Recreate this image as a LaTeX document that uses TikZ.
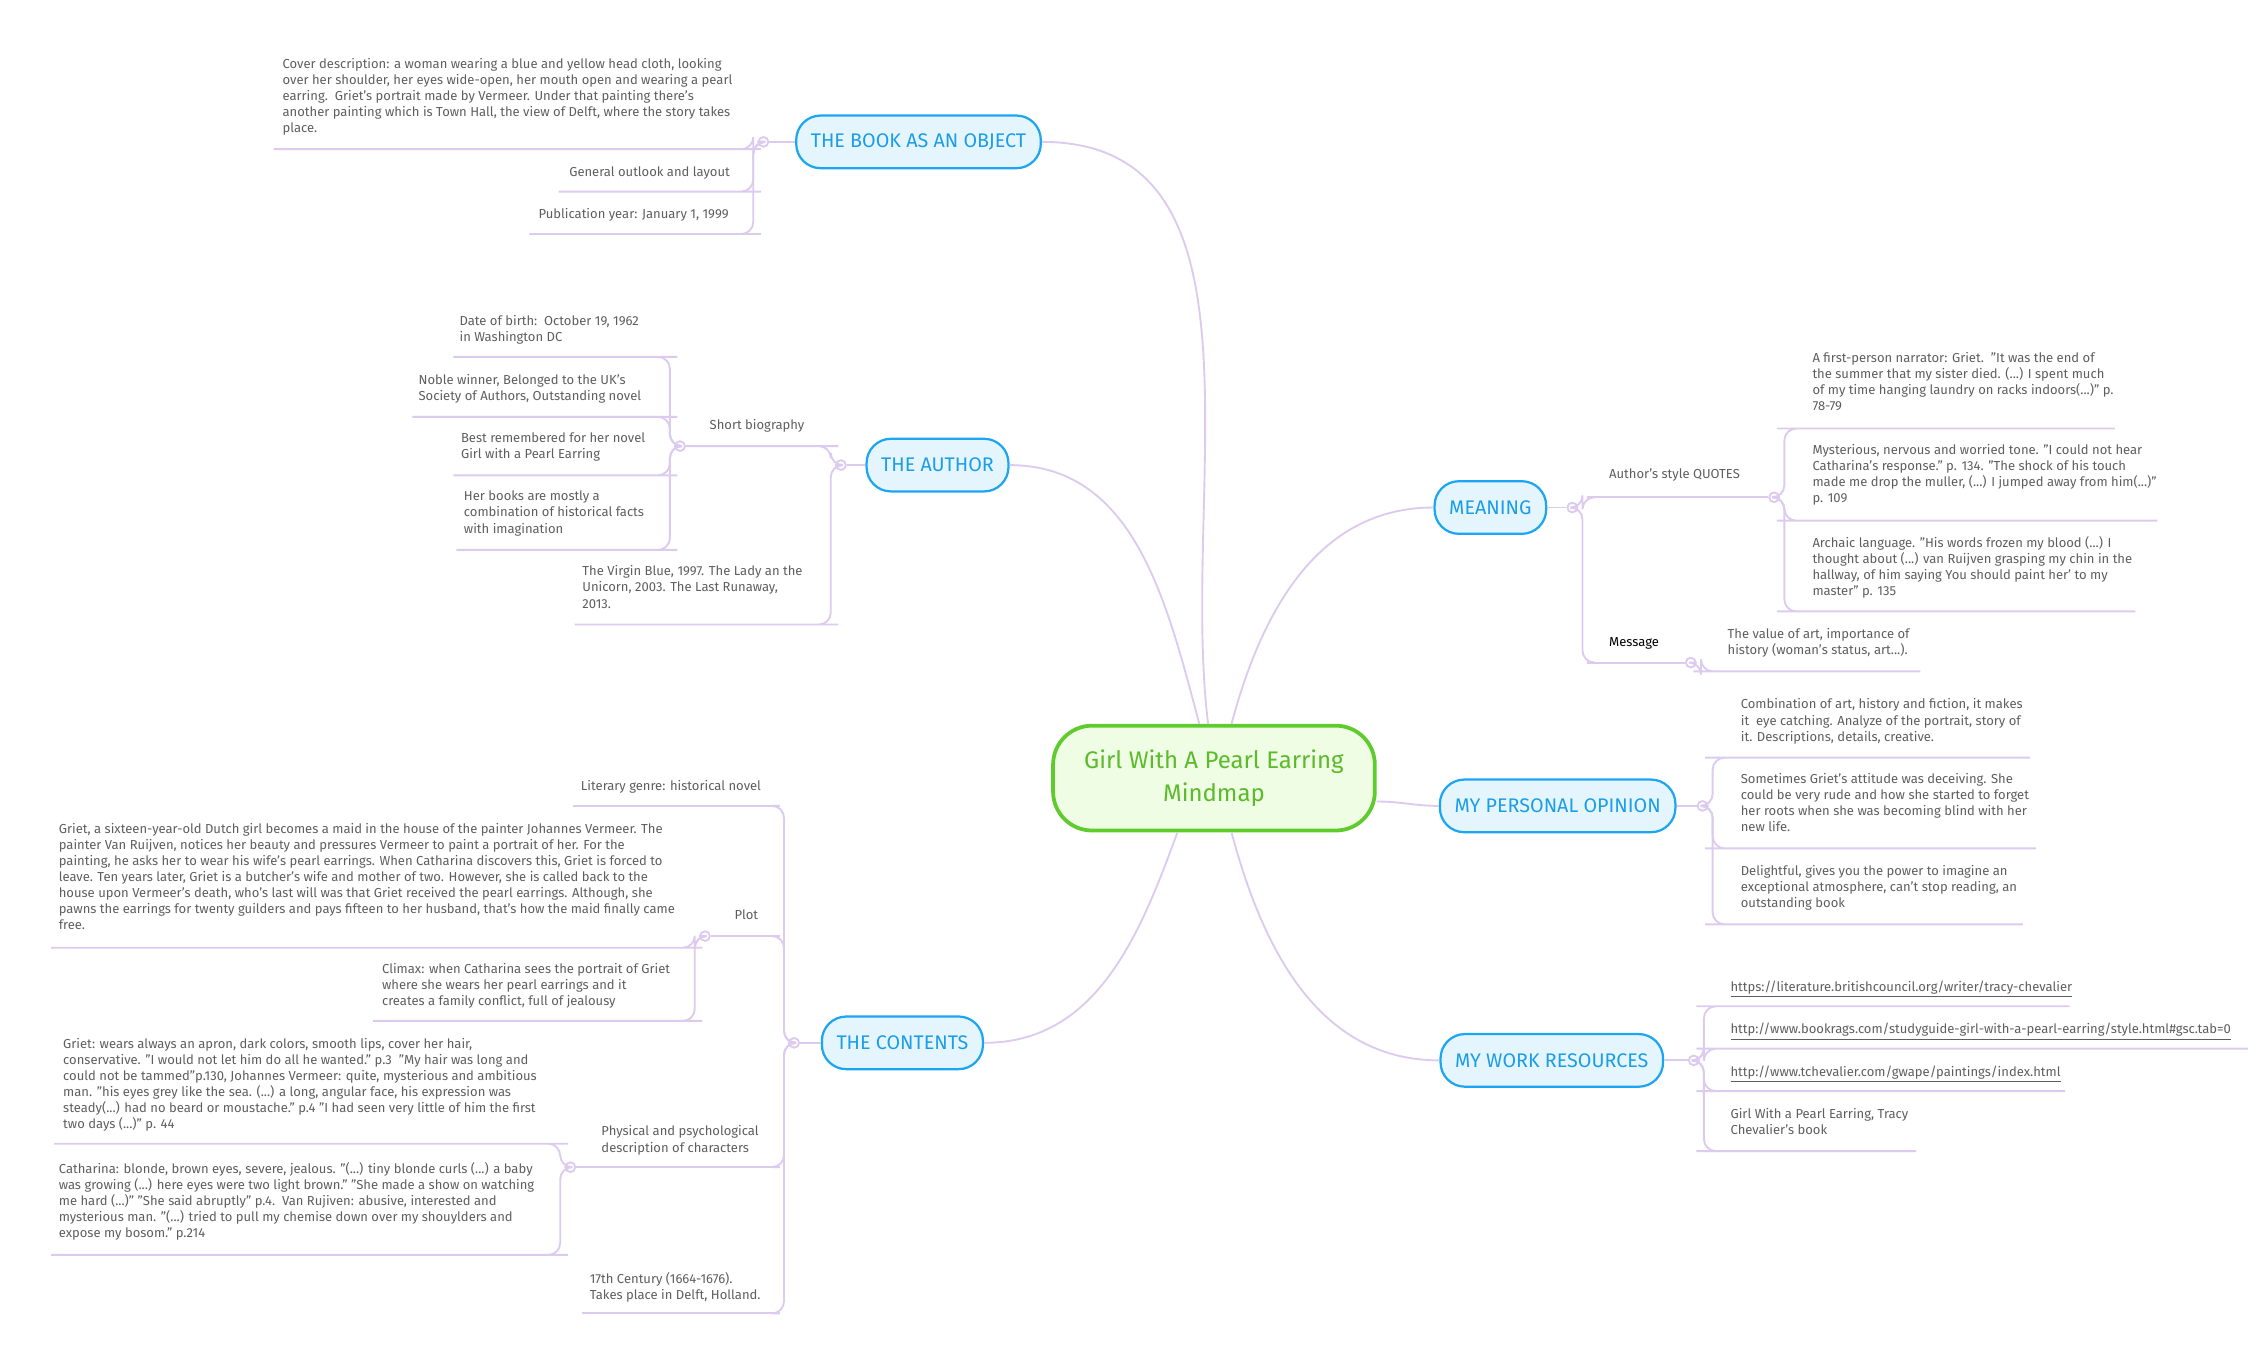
\documentclass[tikz,border=0pt]{standalone}
\usepackage{fontspec}
\setmainfont{Fira Sans}
\usetikzlibrary{positioning}

\definecolor{linkc}{HTML}{DDCBEF}
\definecolor{topicfill}{HTML}{E4F5FE}
\definecolor{topicdraw}{HTML}{1BA5F2}
\definecolor{topictext}{HTML}{1C9DE8}
\definecolor{rootfill}{HTML}{EFFDE5}
\definecolor{rootdraw}{HTML}{5FCB2C}
\definecolor{roottext}{HTML}{5BBB2B}
\definecolor{leaftext}{HTML}{5E5E5E}

% leaf text with its underline: name, text x, first line y, near end, far end, line y, text
\newcommand{\leaf}[7]{%
    \node[leaf] (#1) at (#2,#3-5.5) {#7};
    \coordinate (#1-b) at (#4,#6);
    \coordinate (#1-a) at (#5,#6);}

\begin{document}
\begin{tikzpicture}[x=0.03cm, y=-0.03cm]
    \tikzstyle{link}=[draw=linkc, line width=1.1pt]
    \tikzstyle{leaf}=[anchor=north west, inner sep=0pt, align=left, text=leaftext,
        font=\fontsize{7.6}{9.4}\selectfont]
    \tikzstyle{topic}=[rectangle, rounded corners=0.5cm, draw=topicdraw, line width=1.3pt,
        fill=topicfill, text=topictext, minimum height=1.08cm, inner xsep=0.3cm,
        font=\fontsize{11.5}{13}\selectfont]
    \tikzstyle{root}=[rectangle, rounded corners=0.8cm, draw=rootdraw, line width=2.2pt,
        fill=rootfill, text=roottext, minimum width=6.6cm, minimum height=2.15cm,
        align=center, font=\fontsize{14}{19}\selectfont]
    \tikzstyle{junction}=[circle, draw=linkc, line width=1.1pt, fill=white,
        inner sep=0pt, minimum size=0.2cm]

    \useasboundingbox (0,0) rectangle (1550,921);

    % topics
    \node[root] (root) at (830,532) {Girl With A Pearl Earring\\Mindmap};
    \node[topic] (book) at (628,97) {THE BOOK AS AN OBJECT};
    \node[topic] (author) at (641,318) {THE AUTHOR};
    \node[topic] (contents) at (617,713) {THE CONTENTS};
    \node[topic] (meaning) at (1019,347) {MEANING};
    \node[topic] (opinion) at (1065,551) {MY PERSONAL OPINION};
    \node[topic] (resources) at (1061,725) {MY WORK RESOURCES};

    \draw[link] (root.north) ++(-4,0) to[out=97, in=0] (book.east);
    \draw[link] (root.north) ++(-10,0) to[out=105, in=0] (author.east);
    \draw[link] (root.south) ++(-25,0) to[out=-110, in=0] (contents.east);
    \draw[link] (root.north) ++(12,0) to[out=75, in=180] (meaning.west);
    \draw[link] (root.east) ++(0,16) to[out=0, in=180] (opinion.west);
    \draw[link] (root.south) ++(12,0) to[out=-75, in=180] (resources.west);

    % the book as an object
    \leaf{cover}{193}{45}{512}{187}{102}{Cover description: a woman wearing a blue and yellow head cloth, looking\\over her shoulder, her eyes wide-open, her mouth open and wearing a pearl\\earring.\ \ Griet's portrait made by Vermeer. Under that painting there's\\another painting which is Town Hall, the view of Delft, where the story takes\\place.}
    \leaf{outlook}{389}{119}{512}{382}{131}{General outlook and layout}
    \leaf{pubyear}{368}{148}{512}{362}{160}{Publication year: January 1, 1999}

    % the author
    \node[leaf] (biolabel) at (485,292-5.5) {Short biography};
    \coordinate (bio-b) at (565,305);
    \leaf{birth}{314}{221}{455}{310}{244}{Date of birth:\ \ October 19, 1962\\in Washington DC}
    \leaf{noble}{286}{261}{455}{282}{285}{Noble winner, Belonged to the UK's\\Society of Authors, Outstanding novel}
    \leaf{best}{315}{301}{455}{310}{325}{Best remembered for her novel\\Girl with a Pearl Earring}
    \leaf{mostly}{317}{341}{455}{312}{376}{Her books are mostly a\\combination of historical facts\\with imagination}
    \leaf{virgin}{398}{392}{565}{393}{427}{The Virgin Blue, 1997. The Lady an the\\Unicorn, 2003. The Last Runaway,\\2013.}

    % the contents
    \leaf{genre}{397}{539}{533}{392}{551}{Literary genre: historical novel}
    \node[leaf] (plotlabel) at (502,627-5.5) {Plot};
    \coordinate (plot-b) at (533,640);
    \leaf{story}{40}{568}{472}{35}{648}{Griet, a sixteen-year-old Dutch girl becomes a maid in the house of the painter Johannes Vermeer. The\\painter Van Ruijven, notices her beauty and pressures Vermeer to paint a portrait of her. For the\\painting, he asks her to wear his wife's pearl earrings. When Catharina discovers this, Griet is forced to\\leave. Ten years later, Griet is a butcher's wife and mother of two. However, she is called back to the\\house upon Vermeer's death, who's last will was that Griet received the pearl earrings. Although, she\\pawns the earrings for twenty guilders and pays fifteen to her husband, that's how the maid finally came\\free.}
    \leaf{climax}{261}{664}{472}{255}{698}{Climax: when Catharina sees the portrait of Griet\\where she wears her pearl earrings and it\\creates a family conflict, full of jealousy}
    \node[leaf] (physlabel) at (411,775-5.5) {Physical and psychological\\description of characters};
    \coordinate (phys-b) at (533,798);
    \leaf{griet}{43}{715}{380}{37}{782}{Griet: wears always an apron, dark colors, smooth lips, cover her hair,\\conservative. "I would not let him do all he wanted." p.3\ \ "My hair was long and\\could not be tammed"p.130, Johannes Vermeer: quite, mysterious and ambitious\\man. "his eyes grey like the sea. (...) a long, angular face, his expression was\\steady(...) had no beard or moustache." p.4 "I had seen very little of him the first\\two days (...)" p. 44}
    \leaf{catharina}{40}{800}{380}{35}{858}{Catharina: blonde, brown eyes, severe, jealous. "(...) tiny blonde curls (...) a baby\\was growing (...) here eyes were two light brown." "She made a show on watching\\me hard (...)" "She said abruptly" p.4.\ \ Van Rujiven: abusive, interested and\\mysterious man. "(...) tried to pull my chemise down over my shouylders and\\expose my bosom." p.214}
    \leaf{century}{403}{875}{533}{398}{898}{17th Century (1664-1676).\\Takes place in Delft, Holland.}

    % meaning
    \node[leaf] (quoteslabel) at (1100,326-5.5) {Author's style QUOTES};
    \coordinate (quotes-b) at (1085,340);
    \leaf{first}{1239}{246}{1223}{1446}{293}{A first-person narrator: Griet.\ \ "It was the end of\\the summer that my sister died. (...) I spent much\\of my time hanging laundry on racks indoors(...)" p.\\78-79}
    \leaf{tone}{1239}{309}{1223}{1475}{356}{Mysterious, nervous and worried tone. "I could not hear\\Catharina's response." p. 134. "The shock of his touch\\made me drop the muller, (...) I jumped away from him(...)"\\p. 109}
    \leaf{archaic}{1239}{372}{1223}{1460}{418}{Archaic language. "His words frozen my blood (...) I\\thought about (...) van Ruijven grasping my chin in the\\hallway, of him saying You should paint her' to my\\master" p. 135}
    \node[leaf, text=black] (messagelabel) at (1100,441-5.5) {Message};
    \coordinate (message-b) at (1085,453);
    \leaf{value}{1181}{435}{1166}{1313}{459}{The value of art, importance of\\history (woman's status, art...).}

    % my personal opinion
    \leaf{combination}{1190}{483}{1174}{1388}{518}{Combination of art, history and fiction, it makes\\it\ \ eye catching. Analyze of the portrait, story of\\it. Descriptions, details, creative.}
    \leaf{sometimes}{1190}{534}{1174}{1392}{580}{Sometimes Griet's attitude was deceiving. She\\could be very rude and how she started to forget\\her roots when she was becoming blind with her\\new life.}
    \leaf{delightful}{1190}{597}{1174}{1383}{632}{Delightful, gives you the power to imagine an\\exceptional atmosphere, can't stop reading, an\\outstanding book}

    % my work resources
    \leaf{url1}{1183}{676}{1168}{1415}{688}{\underline{https://literature.britishcouncil.org/writer/tracy-chevalier}}
    \leaf{url2}{1183}{705}{1168}{1537}{717}{\underline{http://www.bookrags.com/studyguide-girl-with-a-pearl-earring/style.html\#gsc.tab=0}}
    \leaf{url3}{1183}{734}{1168}{1412}{746}{\underline{http://www.tchevalier.com/gwape/paintings/index.html}}
    \leaf{bookref}{1183}{763}{1168}{1310}{787}{Girl With a Pearl Earring, Tracy\\Chevalier's book}

    % junctions
    \node[junction] (jbook) at (522,97) {};
    \node[junction] (jauthor) at (575,318) {};
    \node[junction] (jbio) at (465,305) {};
    \node[junction] (jcontents) at (543,713) {};
    \node[junction] (jplot) at (482,640) {};
    \node[junction] (jphys) at (390,798) {};
    \node[junction] (jmeaning) at (1075,347) {};
    \node[junction] (jquotes) at (1213,340) {};
    \node[junction] (jmessage) at (1156,453) {};
    \node[junction] (jopinion) at (1164,551) {};
    \node[junction] (jresources) at (1158,725) {};

    \path[link] (book.west) edge (jbook) (author.west) edge (jauthor)
        (contents.west) edge (jcontents) (meaning.east) edge (jmeaning)
        (opinion.east) edge (jopinion) (resources.east) edge (jresources);

    % branches, left side
    \foreach \leafname in {cover, outlook, pubyear}
        \draw[link, rounded corners=7pt] (jbook.west) -- ++(-3,0) |- (\leafname-b) -- (\leafname-a);
    \draw[link, rounded corners=7pt] (jauthor.west) -- ++(-3,0) |- (virgin-b) -- (virgin-a);
    \draw[link, rounded corners=7pt] (jauthor.west) -- ++(-3,0) |- (bio-b) -- (jbio.east);
    \foreach \leafname in {birth, noble, best, mostly}
        \draw[link, rounded corners=7pt] (jbio.west) -- ++(-3,0) |- (\leafname-b) -- (\leafname-a);
    \foreach \leafname in {genre, plot, phys, century}
        \draw[link, rounded corners=7pt] (jcontents.west) -- ++(-3,0) |- (\leafname-b);
    \foreach \leafname in {genre, century}
        \draw[link] (\leafname-b) -- (\leafname-a);
    \draw[link] (plot-b) -- (jplot.east);
    \draw[link] (phys-b) -- (jphys.east);
    \foreach \leafname in {story, climax}
        \draw[link, rounded corners=7pt] (jplot.west) -- ++(-3,0) |- (\leafname-b) -- (\leafname-a);
    \foreach \leafname in {griet, catharina}
        \draw[link, rounded corners=7pt] (jphys.west) -- ++(-3,0) |- (\leafname-b) -- (\leafname-a);

    % branches, right side
    \foreach \leafname in {quotes, message}
        \draw[link, rounded corners=7pt] (jmeaning.east) -- ++(3,0) |- (\leafname-b);
    \draw[link] (quotes-b) -- (jquotes.west);
    \draw[link] (message-b) -- (jmessage.west);
    \foreach \leafname in {first, tone, archaic}
        \draw[link, rounded corners=7pt] (jquotes.east) -- ++(3,0) |- (\leafname-b) -- (\leafname-a);
    \draw[link, rounded corners=7pt] (jmessage.east) -- ++(3,0) |- (value-b) -- (value-a);
    \foreach \leafname in {combination, sometimes, delightful}
        \draw[link, rounded corners=7pt] (jopinion.east) -- ++(3,0) |- (\leafname-b) -- (\leafname-a);
    \foreach \leafname in {url1, url2, url3, bookref}
        \draw[link, rounded corners=7pt] (jresources.east) -- ++(3,0) |- (\leafname-b) -- (\leafname-a);
\end{tikzpicture}
\end{document}
